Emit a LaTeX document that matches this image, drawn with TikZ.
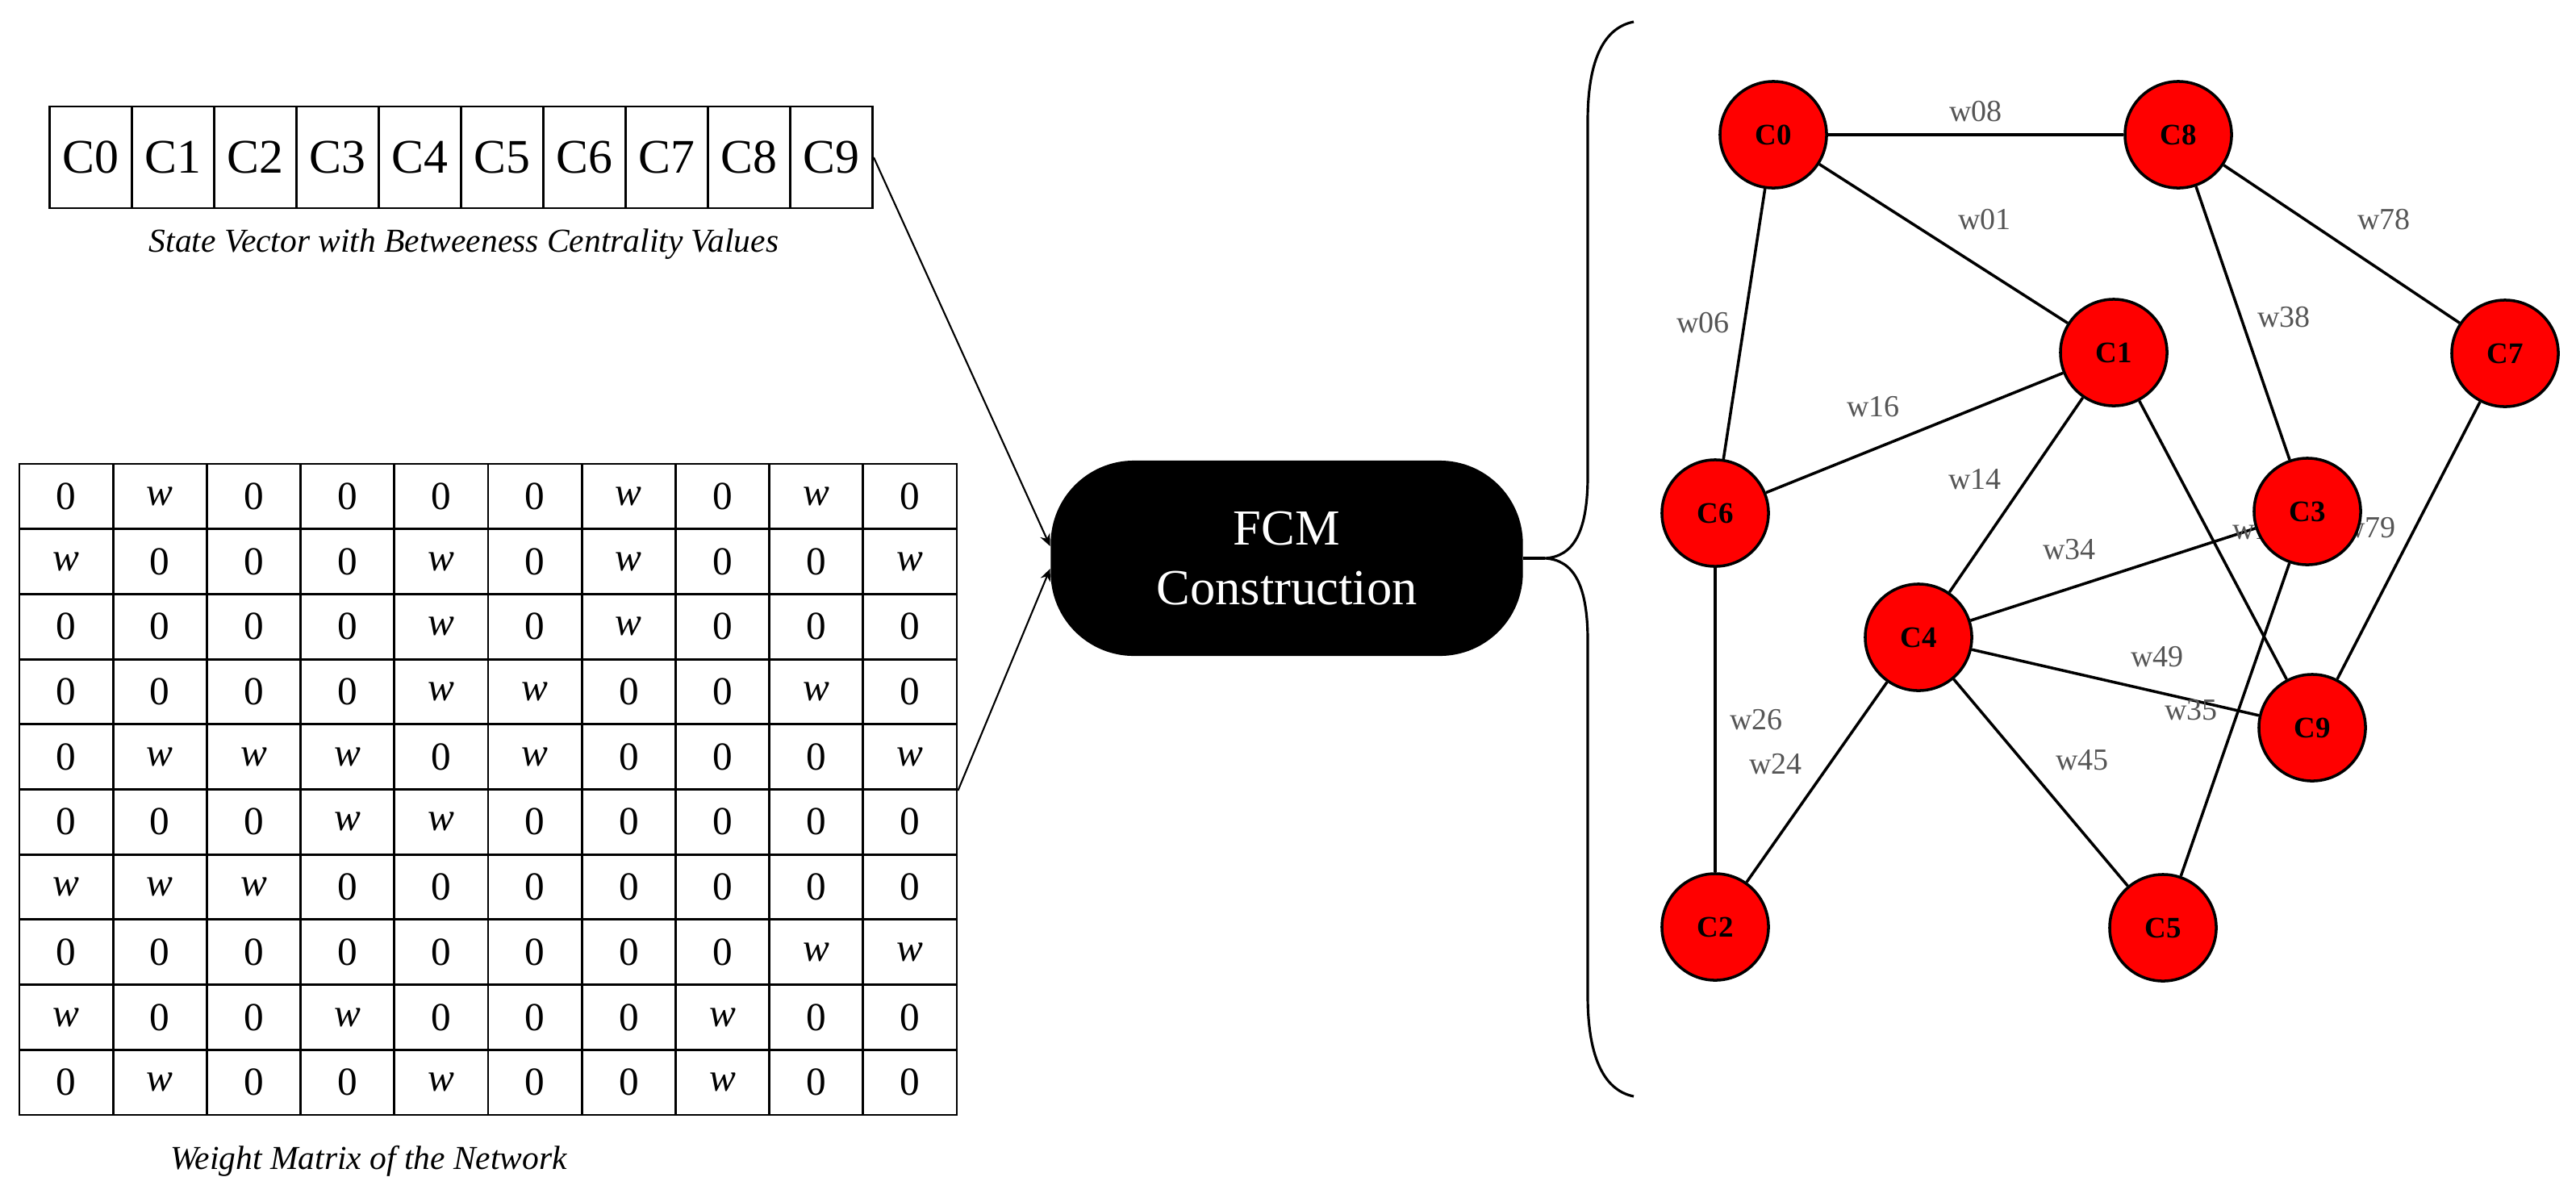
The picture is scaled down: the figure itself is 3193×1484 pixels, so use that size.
\documentclass[tikz,border=0pt]{standalone}
\usepackage{fontspec}
\setmainfont{Liberation Serif}
\usepackage{tikz}
\usetikzlibrary{calc,arrows.meta,backgrounds}
\definecolor{nodered}{HTML}{FF0000}
\definecolor{labgray}{HTML}{555555}
\newcommand{\wgt}{\textit{w}}
\tikzset{
  vcell/.style={draw, line width=0.8pt, minimum width=1.02cm, minimum height=1.26cm, inner sep=0pt, font=\fontsize{17}{18}\selectfont},
  mcell/.style={draw, line width=0.8pt, minimum width=1.162cm, minimum height=0.807cm, inner sep=0pt, font=\fontsize{14}{16}\selectfont},
  capt/.style={inner sep=0pt, font=\fontsize{11.8}{14}\selectfont\itshape},
  fcmbox/.style={fill=black, text=white, rounded corners=1.03cm, minimum width=5.85cm, minimum height=2.42cm, align=center, font=\fontsize{17.8}{20.8}\selectfont},
  feed/.style={line width=0.6pt, -{Stealth[length=1.5mm,width=1.3mm]}},
  concept/.style={circle, draw, fill=nodered, line width=1pt, minimum size=1.32cm, inner sep=0pt, font=\fontsize{10.5}{12}\selectfont\bfseries},
  link/.style={line width=1pt},
  wlab/.style={text=labgray, inner sep=0pt, font=\fontsize{10.8}{12}\selectfont},
  bracel/.style={line width=0.9pt}
}

\begin{document}
\begin{tikzpicture}[x=0.01cm, y=-0.01cm]
  \useasboundingbox (0,0) rectangle (3193,1484);

  % state vector
  \foreach \k in {0,...,9}
    \node[vcell] (v\k) at ({112.5+102*\k},195) {C\k};
  \node[capt] (vcap) at (575,303) {State Vector with Betweeness Centrality Values};

  % weight matrix, one row per item
  \foreach \rowlist [count=\i] in {
    {0,\wgt,0,0,0,0,\wgt,0,\wgt,0},
    {\wgt,0,0,0,\wgt,0,\wgt,0,0,\wgt},
    {0,0,0,0,\wgt,0,\wgt,0,0,0},
    {0,0,0,0,\wgt,\wgt,0,0,\wgt,0},
    {0,\wgt,\wgt,\wgt,0,\wgt,0,0,0,\wgt},
    {0,0,0,\wgt,\wgt,0,0,0,0,0},
    {\wgt,\wgt,\wgt,0,0,0,0,0,0,0},
    {0,0,0,0,0,0,0,0,\wgt,\wgt},
    {\wgt,0,0,\wgt,0,0,0,\wgt,0,0},
    {0,\wgt,0,0,\wgt,0,0,\wgt,0,0}}{
    \foreach \e [count=\j] in \rowlist
      \node[mcell] (m-\i-\j) at ({82.1+116.2*(\j-1)},{615.35+80.7*(\i-1)}) {\e};
  }
  \node[capt] (mcap) at (457,1439) {Weight Matrix of the Network};

  % construction step
  \node[fcmbox] (fcm) at (1595,692) {FCM\\Construction};
  \coordinate (in1) at ($(fcm.west)+(0,-15)$);
  \coordinate (in2) at ($(fcm.west)+(0,13)$);
  \draw[feed] (v9.east) -- (in1);
  \draw[feed] (m-5-10.south east) -- (in2);

  % brace round the map
  \coordinate (tip) at (1915,692);
  \draw[bracel] (2025,27) .. controls (1985,35) and (1968,80) .. (1968,150)
    -- (1968,590) .. controls (1968,660) and (1950,690) .. (tip)
    .. controls (1950,694) and (1968,724) .. (1968,794)
    -- (1968,1234) .. controls (1968,1304) and (1985,1351) .. (2025,1359);
  \draw[bracel] (fcm.east) -- (tip);

  % concepts
  \node[concept] (c0) at (2198,167) {C0};
  \node[concept] (c8) at (2700,167) {C8};
  \node[concept] (c1) at (2620,437) {C1};
  \node[concept] (c7) at (3105,438) {C7};
  \node[concept] (c6) at (2126,636) {C6};
  \node[concept] (c3) at (2860,634) {C3};
  \node[concept] (c4) at (2378,790) {C4};
  \node[concept] (c9) at (2866,902) {C9};
  \node[concept] (c2) at (2126,1149) {C2};
  \node[concept] (c5) at (2681,1150) {C5};

  \begin{scope}[on background layer]
    \foreach \a/\b in {c0/c8,c0/c1,c0/c6,c1/c6,c1/c4,c1/c9,c8/c3,c8/c7,
                       c7/c9,c3/c4,c3/c5,c4/c9,c4/c5,c4/c2,c6/c2}
      \draw[link] (\a) -- (\b);
    \foreach \t/\x/\y in {w08/2449/138,w01/2460/272,w06/2111/400,w16/2322/504,
                          w14/2448/594,w34/2565/681,w78/2955/272,w38/2831/393,
                          w79/2937/654,w19/2800/656,w26/2177/892,w24/2201/947,
                          w45/2581/942,w49/2674/814,w35/2716/880}
      \node[wlab] (l\t) at (\x,\y) {\t};
  \end{scope}
\end{tikzpicture}
\end{document}
